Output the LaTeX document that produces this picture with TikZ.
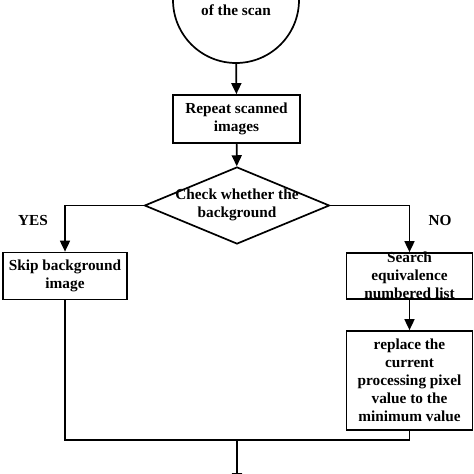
\documentclass[tikz,border=0pt]{standalone}
\usepackage{fontspec}
\setmainfont{Liberation Serif}
\usetikzlibrary{shapes.geometric, arrows.meta, positioning}

\tikzset{
  box/.style={draw, rectangle, align=center, inner sep=2pt},
  decision/.style={draw, diamond, inner sep=0pt, minimum width=185pt, minimum height=77pt},
  txt/.style={align=center, inner sep=0pt}
}

\begin{document}
\begin{tikzpicture}[x=1pt, y=-1pt, line width=1.7pt,
  font=\bfseries\fontsize{15.3}{18}\selectfont,
  >={Triangle[length=11pt, width=10pt]}]
\useasboundingbox (0,0) rectangle (474,474);
\clip (0,0) rectangle (474,474);

% Start of the scan
\node[draw, circle, minimum size=126pt, inner sep=0pt] (start) at (236,0) {};
\node[txt] (startText) at (236,10) {of the scan};

\node[box, minimum width=127pt, minimum height=48pt] (repeat) at (236.5,119) {Repeat scanned\\images};

% Decision
\node[decision] (check) at (237,205.5) {};
\node[txt] (checkText) at (237,205) {Check whether the\\background};

\node (yes) at (33,221) {YES};
\node (no) at (440,221) {NO};

% Branches
\node[box, minimum width=124pt, minimum height=47pt] (skip) at (65,276) {Skip background\\image};
\node[box, minimum width=126pt, minimum height=46pt] (search) at (409.5,276) {};
\node[txt] (searchText) at (409.5,275) {Search\\equivalence\\numbered list};
\node[box, minimum width=126pt, minimum height=99pt] (replace) at (409.5,380.5) {replace the\\current\\processing pixel\\value to the\\minimum value};

\coordinate (join) at (237,440);
\coordinate (end) at (237,484);

\draw[->] (start) -- (repeat);
\draw[->] (repeat) -- (check);
\draw[->] (check.west) -| (skip.north);
\draw[->] (check.east) -| (search.north);
\draw[->] (search.south) -- (replace.north);
\draw (skip.south) |- (join);
\draw (replace.south) |- (join);
\draw[->] (join) -- (end);
\end{tikzpicture}
\end{document}
